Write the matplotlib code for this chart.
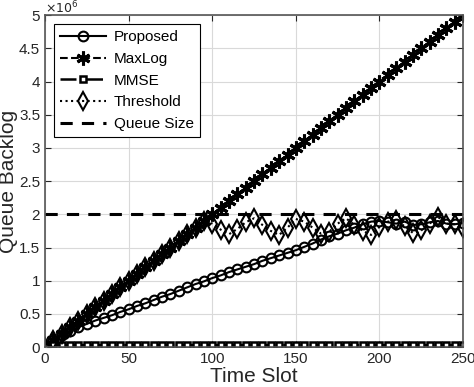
import numpy as np
import matplotlib
matplotlib.use("Agg")
import matplotlib.pyplot as plt

# time slots where markers are placed
slots = list(range(0, 251, 5))

# queue backlog, in units of 1e6
proposed = [0, 0.10, 0.18, 0.24, 0.30, 0.35, 0.40, 0.44, 0.48, 0.53,
            0.57, 0.62, 0.66, 0.71, 0.76, 0.80, 0.85, 0.90, 0.95, 0.99,
            1.04, 1.08, 1.13, 1.17, 1.21, 1.25, 1.30, 1.34, 1.38, 1.42,
            1.46, 1.51, 1.56, 1.62, 1.67, 1.71, 1.76, 1.80, 1.85, 1.89,
            1.90, 1.88, 1.86, 1.89, 1.84, 1.85, 1.88, 1.90, 1.86, 1.85, 1.87]
maxlog = [0.0, 0.1, 0.2, 0.3, 0.4, 0.5, 0.6, 0.7, 0.8, 0.9,
          1.0, 1.1, 1.2, 1.3, 1.4, 1.5, 1.6, 1.7, 1.8, 1.9,
          2.0, 2.1, 2.2, 2.3, 2.4, 2.5, 2.6, 2.7, 2.8, 2.9,
          3.0, 3.1, 3.2, 3.3, 3.4, 3.5, 3.6, 3.7, 3.8, 3.9,
          4.0, 4.1, 4.2, 4.3, 4.4, 4.5, 4.6, 4.7, 4.8, 4.9, 5.0]
mmse = [0.0] + [0.03] * 50
threshold = [0.0, 0.1, 0.2, 0.3, 0.4, 0.5, 0.6, 0.7, 0.8, 0.9,
             1.0, 1.1, 1.2, 1.3, 1.4, 1.5, 1.6, 1.7, 1.8, 1.9,
             1.86, 1.77, 1.70, 1.78, 1.88, 1.94, 1.84, 1.75, 1.69, 1.80,
             1.93, 1.89, 1.80, 1.71, 1.74, 1.86, 1.94, 1.84, 1.75, 1.69,
             1.81, 1.89, 1.91, 1.82, 1.72, 1.76, 1.86, 1.96, 1.86, 1.85, 1.79]
queue_size = 2.0

plt.rcParams['font.family'] = ['Liberation Sans', 'DejaVu Sans']

fig = plt.figure(figsize=(4.74, 3.87), dpi=100)
ax = fig.add_axes([0.095, 0.103, 0.882, 0.858])
ax.set_axisbelow(True)

asterisk = (6, 2, 0)
ax.plot(slots, proposed, '-', color='k', lw=1.5, marker='o', ms=7,
        mfc='none', mew=1.5, label='Proposed')
ax.plot(slots, maxlog, '--', color='k', lw=1.5, marker=asterisk, ms=10,
        mew=2.2, label='MaxLog')
ax.plot(slots, mmse, '-.', color='k', lw=1.8, marker='s', ms=5,
        mfc='white', mew=1.8, label='MMSE')
ax.plot(slots, threshold, ':', color='k', lw=1.5, marker='d', ms=9,
        mfc='none', mew=1.5, label='Threshold')
ax.axhline(queue_size, color='k', ls=(0, (4, 3)), lw=2.2, label='Queue Size')

ax.set_xlim(0, 250)
ax.set_ylim(0, 5)
ax.set_xticks(range(0, 251, 50))
ax.set_yticks(np.arange(0, 5.01, 0.5))
ax.set_yticklabels(['%g' % v for v in np.arange(0, 5.01, 0.5)])
ax.tick_params(direction='in', top=True, right=True, labelsize=11,
               colors='#262626', length=4)
ax.grid(True, color='#d9d9d9', lw=0.8)
for s in ax.spines.values():
    s.set_color('#555555')
    s.set_linewidth(1.2)

ax.set_xlabel('Time Slot', fontsize=15, color='#262626', labelpad=1)
ax.set_ylabel('Queue Backlog', fontsize=15, color='#262626', labelpad=1)
ax.text(0.0, 0.997, r'$\times10^{6}$', transform=ax.transAxes,
        fontsize=9, color='#262626', ha='left', va='bottom')

leg = ax.legend(loc='upper left', fontsize=11, fancybox=False,
                edgecolor='k', framealpha=1, handlelength=3.0,
                borderaxespad=0.6, labelspacing=0.5, handletextpad=0.5)
leg.get_frame().set_linewidth(0.8)

fig.savefig('out.png', dpi=100)
